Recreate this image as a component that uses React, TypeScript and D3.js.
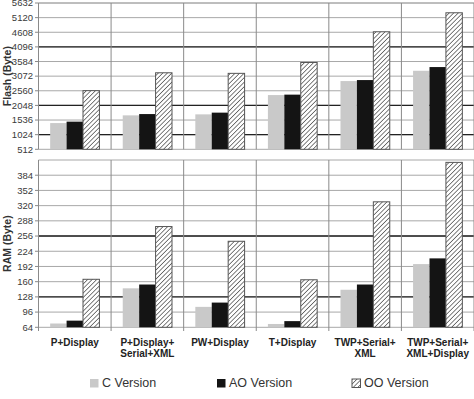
import React from 'react';
import * as d3 from 'd3';

const categories = [
  ['P+Display'],
  ['P+Display+', 'Serial+XML'],
  ['PW+Display'],
  ['T+Display'],
  ['TWP+Serial+', 'XML'],
  ['TWP+Serial+', 'XML+Display'],
];
const seriesNames = ['C Version', 'AO Version', 'OO Version'];

// Flash (Byte)
const flashC = [1430, 1700, 1735, 2410, 2900, 3260];
const flashAO = [1480, 1745, 1795, 2425, 2935, 3390];
const flashOO = [2565, 3190, 3170, 3550, 4625, 5290];

// RAM (Byte)
const ramC = [72, 146, 107, 71, 143, 197];
const ramAO = [78, 154, 116, 77, 154, 209];
const ramOO = [165, 276, 245, 164, 328, 411];

const flashTicks = d3.range(512, 5632 + 1, 512);
const ramTicks = d3.range(64, 384 + 1, 32);
const flashStrong = [1024, 2048, 4096];
const ramStrong = [128, 256];

const W = 474;
const H = 399;
const left = 38.5;
const right = 474;

const fills = ['#c9c9c9', '#141414', 'url(#hatch)'];

const x0 = d3.scaleBand<number>().domain(d3.range(categories.length)).range([left, right]).padding(0);
const x1 = d3.scaleBand<number>().domain([0, 1, 2]).range([0, x0.bandwidth()]).paddingInner(0).paddingOuter(0.71);

type PanelProps = {
  y: d3.ScaleLinear<number, number>;
  ticks: number[];
  gridTop: number;
  strong: number[];
  data: number[][];
  title: string;
  sepBottom: number;
};

const Panel = ({ y, ticks, gridTop, strong, data, title, sepBottom }: PanelProps) => {
  const [y0, y1] = y.range();
  const mid = (y0 + y1) / 2;
  return (
    <g>
      {[...ticks, gridTop].map(t => (
        <line key={'g' + t} x1={left} x2={right} y1={y(t)} y2={y(t)} stroke="#a8a8a8" strokeWidth={1} />
      ))}
      {ticks.map(t => (
        <g key={'t' + t}>
          <line x1={left - 3.5} x2={left} y1={y(t)} y2={y(t)} stroke="#888" />
          <text x={33} y={y(t)} dy="0.35em" textAnchor="end" fontSize={9.5} fill="#3a3a3a">{t}</text>
        </g>
      ))}
      {strong.map(t => (
        <line key={'s' + t} x1={left} x2={right} y1={y(t)} y2={y(t)} stroke="#222" strokeWidth={1.4} />
      ))}
      {d3.range(categories.length + 1).map(i => {
        const xv = i < categories.length ? x0(i)! : right;
        return <line key={'v' + i} x1={xv} x2={xv} y1={y1} y2={sepBottom} stroke="#8a8a8a" strokeWidth={1} />;
      })}
      {data.map((series, s) =>
        series.map((v, i) => (
          <rect
            key={s + '-' + i}
            x={x0(i)! + x1(s)!}
            y={y(v)}
            width={x1.bandwidth()}
            height={y0 - y(v)}
            fill={fills[s]}
            stroke={s === 2 ? '#555' : 'none'}
            strokeWidth={1}
          />
        ))
      )}
      <text
        transform={`translate(11,${mid}) rotate(-90)`}
        textAnchor="middle"
        fontSize={10.5}
        fontWeight="bold"
        fill="#333"
      >
        {title}
      </text>
    </g>
  );
};

const App = () => {
  const yFlash = d3.scaleLinear().domain([512, 5632]).range([149.3, 3]);
  const yRam = d3.scaleLinear().domain([64, 416]).range([327.3, 160]);

  const legendX = [90, 217, 352];

  return (
    <svg
      width={W}
      height={H}
      style={{ position: 'absolute', left: 0, top: 0, background: '#fff' }}
      fontFamily="'Liberation Sans', Arial, sans-serif"
    >
      <defs>
        <pattern id="hatch" patternUnits="userSpaceOnUse" width={3.2} height={3.2} patternTransform="rotate(45)">
          <rect width={3.2} height={3.2} fill="#fff" />
          <line x1={0} y1={0} x2={0} y2={3.2} stroke="#555" strokeWidth={1.5} />
        </pattern>
      </defs>
      <rect width={W} height={H} fill="#fff" />
      <Panel
        y={yFlash}
        ticks={flashTicks}
        gridTop={5632}
        strong={flashStrong}
        data={[flashC, flashAO, flashOO]}
        title="Flash (Byte)"
        sepBottom={149.3}
      />
      <Panel
        y={yRam}
        ticks={ramTicks}
        gridTop={416}
        strong={ramStrong}
        data={[ramC, ramAO, ramOO]}
        title="RAM (Byte)"
        sepBottom={331}
      />
      {categories.map((lines, i) => (
        <text
          key={'c' + i}
          x={x0(i)! + x0.bandwidth() / 2}
          y={345.5}
          textAnchor="middle"
          fontSize={10}
          fontWeight="bold"
          fill="#222"
        >
          {lines.map((l, j) => (
            <tspan key={j} x={x0(i)! + x0.bandwidth() / 2} dy={j === 0 ? 0 : 11.5}>
              {l}
            </tspan>
          ))}
        </text>
      ))}
      {seriesNames.map((name, s) => (
        <g key={name} transform={`translate(${legendX[s]},379)`}>
          <rect x={0} y={0} width={8.5} height={8.5} fill={fills[s]} stroke={s === 2 ? '#555' : 'none'} />
          <text x={12} y={8.3} fontSize={12.5} fill="#333">{name}</text>
        </g>
      ))}
    </svg>
  );
};

export default App;
